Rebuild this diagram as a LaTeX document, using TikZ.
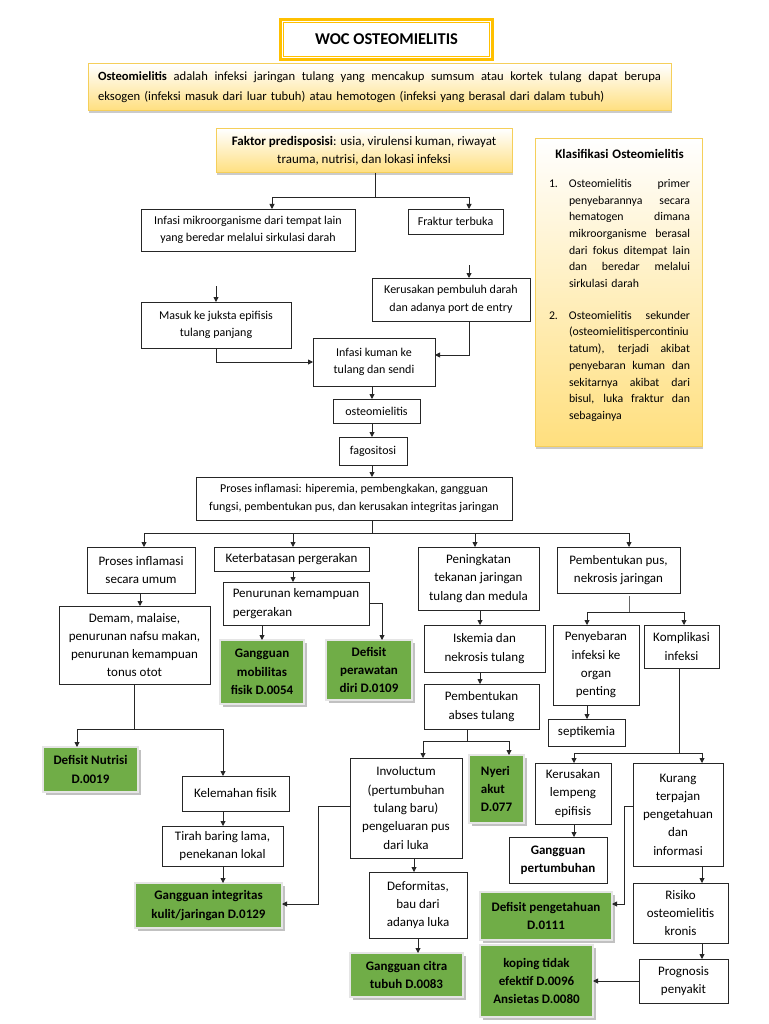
\documentclass[tikz,border=0pt]{standalone}
\usepackage{fontspec}
\setmainfont{Carlito}
\usetikzlibrary{arrows.meta,shadows,calc}
\definecolor{grn}{HTML}{70AD47}
\definecolor{gold}{HTML}{FFC000}
\definecolor{ygold}{HTML}{F5CF5A}
\definecolor{ylw}{HTML}{FFDF7E}
\newcommand\jst[2]{\makebox[#1][s]{\spaceskip=.3em plus 20em\relax #2}}
\begin{document}
\begin{tikzpicture}[x=1pt,y=-1pt,
  wh/.style 2 args={minimum width=#1pt, minimum height=#2pt},
  box/.style={draw=black!85, line width=0.9pt, fill=white, inner sep=0pt, outer sep=0pt, align=center, font=\fontsize{13}{18.3}\selectfont},
  ubox/.style={box, font=\fontsize{12}{17.7}\selectfont},
  gbox/.style={box, fill=grn, draw=black!10, line width=1.6pt, font=\bfseries\fontsize{13}{18.3}\selectfont,
     drop shadow={shadow xshift=2.5pt, shadow yshift=-3pt, fill=black!40, opacity=0.6}},
  ybox/.style={draw=ygold, line width=1pt, top color=white, bottom color=ylw, inner sep=0pt, outer sep=0pt,
     drop shadow={shadow xshift=1pt, shadow yshift=-2.5pt, fill=black!40, opacity=0.5}},
  arr/.style={-{Triangle[length=5pt,width=5pt]}, line width=0.9pt, draw=black!85},
  ln/.style={line width=0.9pt, draw=black!85}]
\useasboundingbox (0,0) rectangle (768,1024);
\fill[white] (0,0) rectangle (768,1024);

% title
\node[draw=gold, line width=3.5pt, fill=white, wh={212}{40}, inner sep=0pt, font=\bfseries\fontsize{16.5}{19}\selectfont] (title) at (386.5,39.5) {WOC OSTEOMIELITIS};
\draw[gold, line width=0.8pt] ([shift={(4.5pt,-4.5pt)}]title.north west) rectangle ([shift={(-4.5pt,4.5pt)}]title.south east);

% definition
\node[ybox, wh={583}{47}, align=left, text width=563pt, font=\fontsize{12.6}{20}\selectfont] (def) at (379.5,87.5)
 {\jst{563pt}{\textbf{Osteomielitis} adalah infeksi jaringan tulang yang mencakup sumsum atau kortek tulang dapat berupa}\\
  eksogen (infeksi masuk dari luar tubuh) atau hemotogen (infeksi yang berasal dari dalam tubuh)};

% faktor
\node[ybox, wh={296}{44}, align=center, font=\fontsize{13}{18}\selectfont] (faktor) at (364,151)
 {\textbf{Faktor predisposisi}: usia, virulensi kuman, riwayat\\trauma, nutrisi, dan lokasi infeksi};

% klasifikasi
\node[ybox, wh={167}{307}] (klas) at (618.5,292.5) {};
\node[anchor=north, inner sep=0pt, align=left, text width=141pt, font=\fontsize{11.8}{16.7}\selectfont] (klastxt) at (619.5,149)
 {\makebox[141pt][c]{\fontsize{13}{16.7}\selectfont\textbf{Klasifikasi Osteomielitis}}\\[12.3pt]
  \makebox[20pt][l]{1.}\jst{121pt}{Osteomielitis primer}\\
  \hspace*{20pt}\jst{121pt}{penyebarannya secara}\\
  \hspace*{20pt}\jst{121pt}{hematogen dimana}\\
  \hspace*{20pt}\jst{121pt}{mikroorganisme berasal}\\
  \hspace*{20pt}\jst{121pt}{dari fokus ditempat lain}\\
  \hspace*{20pt}\jst{121pt}{dan beredar melalui}\\
  \hspace*{20pt}sirkulasi darah\\[15pt]
  \makebox[20pt][l]{2.}\jst{121pt}{Osteomielitis sekunder}\\
  \hspace*{20pt}\jst{121pt}{(osteomielitispercontiniu}\\
  \hspace*{20pt}\jst{121pt}{tatum), terjadi akibat}\\
  \hspace*{20pt}\jst{121pt}{penyebaran kuman dan}\\
  \hspace*{20pt}\jst{121pt}{sekitarnya akibat dari}\\
  \hspace*{20pt}\jst{121pt}{bisul, luka fraktur dan}\\
  \hspace*{20pt}sebagainya};

% upper chain
\node[ubox, wh={214}{42}] (infasiM) at (248,230) {Infasi mikroorganisme dari tempat lain\\yang beredar melalui sirkulasi darah};
\node[ubox, wh={95}{25}] (fraktur) at (455.5,221.5) {Fraktur terbuka};
\node[ubox, wh={150}{46}] (masuk) at (216,325) {Masuk ke juksta epifisis\\tulang panjang};
\node[ubox, wh={158}{43}] (kerP) at (451,299.5) {Kerusakan pembuluh darah\\dan adanya port de entry};
\node[ubox, wh={122}{48}] (infasiK) at (374,362) {Infasi kuman ke\\tulang dan sendi};
\node[ubox, wh={87}{24}] (osteo) at (376.5,411) {osteomielitis};
\node[ubox, wh={68}{28}] (fago) at (373,451) {fagositosi};
\node[ubox, wh={316}{43}] (proses) at (354,498.5) {Proses inflamasi: hiperemia, pembengkakan, gangguan\\fungsi, pembentukan pus, dan kerusakan integritas jaringan};

% lower boxes
\node[box, wh={108}{46}] (prosesU) at (141,570) {Proses inflamasi\\secara umum};
\node[box, wh={155}{24}] (keterb) at (291.5,559) {Keterbatasan pergerakan};
\node[box, wh={146}{43}, align=left] (penurunan) at (296,603.5) {Penurunan kemampuan\\pergerakan};
\node[box, wh={151}{78}] (demam) at (134.5,645) {Demam, malaise,\\penurunan nafsu makan,\\penurunan kemampuan\\tonus otot};
\node[gbox, wh={84}{64}] (gMob) at (262,672) {Gangguan\\mobilitas\\fisik D.0054};
\node[gbox, wh={86}{60}] (dPer) at (369,670) {Defisit\\perawatan\\diri D.0109};
\node[gbox, wh={95}{45}] (dNut) at (90.5,769.5) {Defisit Nutrisi\\D.0019};
\node[box, wh={107}{35}] (kelemahan) at (235.5,793.5) {Kelemahan fisik};
\node[box, wh={121}{40}] (tirah) at (222.5,846) {Tirah baring lama,\\penekanan lokal};
\node[gbox, wh={147}{45}] (gInt) at (208.5,905.5) {Gangguan integritas\\kulit/jaringan D.0129};
\node[box, wh={121}{63}] (peningkatan) at (478.5,578.5) {Peningkatan\\tekanan jaringan\\tulang dan medula};
\node[box, wh={121}{47}] (iskemia) at (484.5,648.5) {Iskemia dan\\nekrosis tulang};
\node[box, wh={115}{45}] (abses) at (481.5,706.5) {Pembentukan\\abses tulang};
\node[box, wh={123}{46}] (pus) at (618.5,570) {Pembentukan pus,\\nekrosis jaringan};
\node[box, wh={86}{80}] (penyebaran) at (596,665) {Penyebaran\\infeksi ke\\organ\\penting};
\node[box, wh={75}{43}] (komplikasi) at (681.5,646.5) {Komplikasi\\infeksi};
\node[box, wh={77}{27}] (septikemia) at (586.5,732.5) {septikemia};
\node[box, wh={112}{100}] (involuctum) at (406,808) {Involuctum\\(pertumbuhan\\tulang baru)\\pengeluaran pus\\dari luka};
\node[gbox, wh={55}{68}, align=left] (nyeri) at (496.5,789) {Nyeri\\akut\\D.077};
\node[box, wh={98}{66}] (deformitas) at (418,905) {Deformitas,\\bau dari\\adanya luka};
\node[gbox, wh={113}{44}] (gCitra) at (406.5,975) {Gangguan citra\\tubuh D.0083};
\node[box, wh={76}{61}] (kerL) at (573,793.5) {Kerusakan\\lempeng\\epifisis};
\node[box, wh={98}{46}, font=\bfseries\fontsize{13}{18.3}\selectfont] (gPert) at (558,860) {Gangguan\\pertumbuhan};
\node[box, wh={90}{103}] (kurang) at (678,814.5) {Kurang\\terpajan\\pengetahuan\\dan\\informasi};
\node[gbox, wh={132}{48}] (dPeng) at (546,916) {Defisit pengetahuan\\D.0111};
\node[box, wh={95}{60}] (risiko) at (680.5,913) {Risiko\\osteomielitis\\kronis};
\node[box, wh={89}{44}] (prognosis) at (683.5,981) {Prognosis\\penyakit};
\node[gbox, wh={113}{72}] (koping) at (536.5,981) {koping tidak\\efektif D.0096\\Ansietas D.0080};

% connectors upper
\draw[ln] ([xshift=11pt]faktor.south) -- ++(0,24) coordinate (j1);
\draw[arr] (j1) -| ([xshift=24pt]infasiM.north);
\draw[arr] (j1) -| ([xshift=13.5pt]fraktur.north);
\coordinate (s1) at (216,286);
\draw[arr] (s1) -- (masuk.north -| s1);
\coordinate (s2) at (469,265);
\draw[arr] (s2) -- (kerP.north -| s2);
\draw[arr] (masuk.south) |- (infasiK.west);
\draw[arr] ([xshift=18pt]kerP.south) |- ([yshift=7pt]infasiK.east);
\coordinate (cx) at (372,0);
\draw[arr] (infasiK.south -| cx) -- (osteo.north -| cx);
\draw[arr] (osteo.south -| cx) -- (fago.north -| cx);
\draw[arr] (fago.south -| cx) -- (proses.north -| cx);
\draw[ln] (proses.south -| cx) -- ++(0,13) coordinate (j2);
\draw[arr] (j2) -| ([xshift=3pt]prosesU.north);
\draw[arr] (j2) -| ([xshift=1.5pt]keterb.north);
\draw[arr] (j2) -| ([xshift=-3.5pt]peningkatan.north);
\draw[arr] (j2) -| ([xshift=10.5pt]pus.north);

% left column
\draw[arr] ([xshift=-1pt]prosesU.south) -- ([xshift=-1pt]prosesU.south |- demam.north);
\draw[arr] ([xshift=1.5pt]keterb.south) -- ([xshift=1.5pt]keterb.south |- penurunan.north);
\draw[arr] (penurunan.south -| gMob.north) -- (gMob.north);
\draw[arr] (penurunan.east) -| ([xshift=13pt]dPer.north);
\draw[ln] (demam.south) -- ++(0,45) coordinate (j3);
\draw[arr] (j3) -| ([xshift=-13.5pt]dNut.north);
\draw[arr] (j3) -| ([xshift=-12.5pt]kelemahan.north);
\coordinate (cx2) at (223,0);
\draw[arr] (kelemahan.south -| cx2) -- (tirah.north -| cx2);
\draw[arr] (tirah.south -| cx2) -- (gInt.north -| cx2);
\draw[arr] ([yshift=2pt]involuctum.west) -- ++(-32,0) |- ([yshift=1.5pt]gInt.east);

% middle column
\coordinate (cx3) at (480,0);
\draw[arr] (peningkatan.south -| cx3) -- (iskemia.north -| cx3);
\draw[arr] (iskemia.south -| cx3) -- (abses.north -| cx3);
\draw[ln] ([xshift=-14.5pt]abses.south) -- ++(0,12) coordinate (j4);
\draw[arr] (j4) -| ([xshift=17pt]involuctum.north);
\draw[arr] (j4) -| ([xshift=12.5pt]nyeri.north);
\draw[arr] ([xshift=8pt]involuctum.south) -- ([xshift=8pt]involuctum.south |- deformitas.north);
\draw[arr] (deformitas.south) -- (deformitas.south |- gCitra.north);

% right column
\draw[ln, draw=black!60] ([xshift=10.5pt, yshift=-3pt]pus.south) -- ++(0,16) coordinate (j5);
\draw[arr] (j5) -| ([xshift=-9pt]penyebaran.north);
\draw[arr] (j5) -| ([xshift=2.5pt]komplikasi.north);
\draw[arr] ([xshift=-9pt]penyebaran.south) -- ([xshift=-9pt]penyebaran.south |- septikemia.north);
\draw[ln] ([xshift=-2.5pt]komplikasi.south) -- ++(0,85) coordinate (j6);
\draw[arr] (j6) -| ([xshift=1pt]kerL.north);
\draw[arr] (j6) -| ([xshift=24pt]kurang.north);
\draw[arr] ([xshift=1pt]kerL.south) -- ([xshift=1pt]kerL.south |- gPert.north);
\draw[arr] ([yshift=8.5pt]kurang.west) -- ++(-9,0) |- ([yshift=12pt]dPeng.east);
\coordinate (cx4) at (702,0);
\draw[arr] (kurang.south -| cx4) -- (risiko.north -| cx4);
\draw[arr] (risiko.south -| cx4) -- (prognosis.north -| cx4);
\draw[arr] (prognosis.west) -- (prognosis.west -| koping.east);
\end{tikzpicture}
\end{document}
